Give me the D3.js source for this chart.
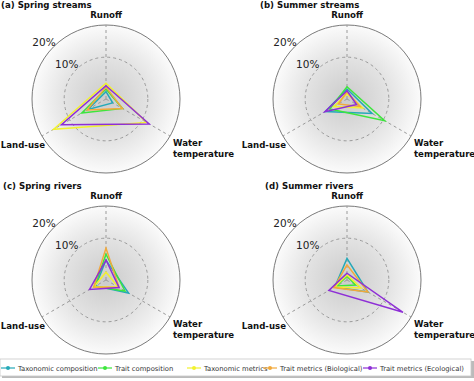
<!DOCTYPE html>
<html><head><meta charset="utf-8">
<script src="https://cdn.jsdelivr.net/npm/d3@7"></script>
<style>body{margin:0;background:#fff;}svg{display:block;font-family:"DejaVu Sans",sans-serif;}</style>
</head><body>
<svg id="c" width="474" height="381"></svg>
<script>
// ---- data ----
const axisNames = ["Runoff", "Water temperature", "Land-use"];
const seriesNames = ["Taxonomic composition", "Trait composition", "Taxonomic metrics", "Trait metrics (Biological)", "Trait metrics (Ecological)"];
const seriesColors = ["#25a9b8", "#3de63d", "#f2f22e", "#f2a93b", "#8e2fd6"];
const panelTitles = ["(a) Spring streams", "(b) Summer streams", "(c) Spring rivers", "(d) Summer rivers"];
const radialTicks = [10, 20];
// values (%) per series: [Runoff, Water temperature, Land-use]
const springStreams = [[-0.7, -0.6, 3.5], [0.1, 2.9, 5.7], [1.9, 11.6, 15.8], [0.7, 2.9, 3.8], [1.1, 12.5, 13.0]];
const summerStreams = [[0.1, 6.0, 4.8], [0.8, 10.5, 3.2], [-1.4, 2.6, 1.7], [-0.8, 1.7, 0.1], [-0.4, 0.4, 4.9]];
const springRivers = [[3.2, 5.1, 0.7], [5.0, 3.8, 1.0], [-0.6, 1.4, 1.4], [6.9, 1.7, 1.4], [3.2, 1.7, 2.9]];
const summerRivers = [[3.7, 4.5, 1.4], [-1.8, 0.1, 0.7], [-1.4, 2.0, 1.4], [1.7, 4.5, 1.7], [-0.9, 17.1, 3.5]];
const panelData = [springStreams, summerStreams, springRivers, summerRivers];

// ---- layout ----
const svg = d3.select("#c");
const R = 74;
const rScale = d3.scaleLinear().domain([-3, 20]).range([0, R]);
const angleScale = d3.scalePoint().domain(axisNames).range([0, 4 * Math.PI / 3]);
const centers = [[106, 99], [347, 99], [106, 280], [347, 280]];
const titlePos = [[1, 8], [260, 8], [3, 189], [265, 189]];

const defs = svg.append("defs");
const grad = defs.append("radialGradient").attr("id", "bg");
grad.append("stop").attr("offset", "0%").attr("stop-color", "#cbcbcb");
grad.append("stop").attr("offset", "55%").attr("stop-color", "#e2e2e2");
grad.append("stop").attr("offset", "100%").attr("stop-color", "#fbfbfb");

function pt(axis, v) {
  const a = angleScale(axis);
  const r = rScale(v);
  return [r * Math.sin(a), -r * Math.cos(a)];
}

panelData.forEach((data, pi) => {
  const [cx, cy] = centers[pi];
  const g = svg.append("g").attr("transform", `translate(${cx},${cy})`);
  g.append("circle").attr("r", R).attr("fill", "url(#bg)").attr("stroke", "#7a7a7a").attr("stroke-width", 1);
  g.append("circle").attr("r", rScale(radialTicks[0])).attr("fill", "none")
    .attr("stroke", "#9a9a9a").attr("stroke-width", 1).attr("stroke-dasharray", "3,3");
  axisNames.forEach(ax => {
    const [x, y] = pt(ax, 20);
    g.append("line").attr("x1", 0).attr("y1", 0).attr("x2", x).attr("y2", y)
      .attr("stroke", "#9a9a9a").attr("stroke-width", 1).attr("stroke-dasharray", "3,3");
  });
  radialTicks.forEach(t => {
    const r = rScale(t);
    const a = -3 * Math.PI / 4;
    g.append("text").attr("x", r * Math.cos(a) + 2).attr("y", r * Math.sin(a) - 1)
      .attr("text-anchor", "end").attr("font-size", 10.5).attr("fill", "#222").text(t + "%");
  });
  // axis labels
  g.append("text").attr("x", 0).attr("y", -81).attr("text-anchor", "middle")
    .attr("font-size", 8.6).attr("font-weight", "bold").attr("fill", "#111").text(axisNames[0]);
  const wt = g.append("text").attr("font-size", 8.6).attr("font-weight", "bold").attr("fill", "#111");
  wt.append("tspan").attr("x", 67).attr("y", 47).text("Water");
  wt.append("tspan").attr("x", 67).attr("y", 58).text("temperature");
  g.append("text").attr("x", -61).attr("y", 49).attr("text-anchor", "end")
    .attr("font-size", 8.6).attr("font-weight", "bold").attr("fill", "#111").text(axisNames[2]);
  // series polygons
  const line = d3.line().curve(d3.curveLinearClosed);
  data.forEach((vals, si) => {
    const pts = axisNames.map((ax, k) => pt(ax, vals[k]));
    g.append("path").attr("d", line(pts)).attr("fill", "none")
      .attr("stroke", seriesColors[si]).attr("stroke-width", 1.5).attr("stroke-linejoin", "miter");
  });
  svg.append("text").attr("x", titlePos[pi][0]).attr("y", titlePos[pi][1])
    .attr("font-size", 8.6).attr("font-weight", "bold").attr("fill", "#111").text(panelTitles[pi]);
});

// ---- legend ----
const lg = svg.append("g");
lg.append("rect").attr("x", 2).attr("y", 361).attr("width", 472).attr("height", 17).attr("fill", "#bbb");
lg.append("rect").attr("x", 0).attr("y", 359).attr("width", 471).attr("height", 17)
  .attr("fill", "#fff").attr("stroke", "#c8c8c8").attr("stroke-width", 0.8);
const legX = [1, 98, 187, 263, 363];
seriesNames.forEach((s, i) => {
  const x = legX[i];
  lg.append("line").attr("x1", x).attr("x2", x + 14).attr("y1", 368).attr("y2", 368)
    .attr("stroke", seriesColors[i]).attr("stroke-width", 1.2);
  lg.append("circle").attr("cx", x + 7).attr("cy", 368).attr("r", 2).attr("fill", seriesColors[i]);
  lg.append("text").attr("x", x + 17).attr("y", 370.5).attr("font-size", 6.8).attr("fill", "#333").text(s);
});
</script>
</body></html>
